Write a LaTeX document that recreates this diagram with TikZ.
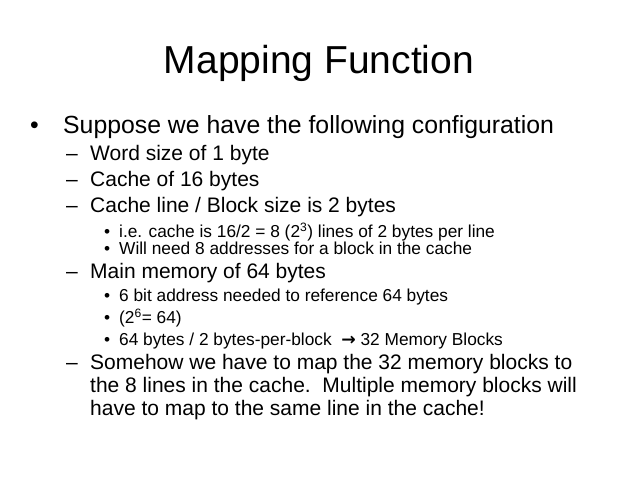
\documentclass[tikz,border=0pt]{standalone}
\usepackage{fontspec}
\setmainfont{Liberation Sans}
\newfontfamily\symfont{DejaVu Sans}
\tikzset{
  title/.style={anchor=base, inner sep=0pt, font=\fontsize{39}{44}\selectfont},
  lone/.style={anchor=base west, inner sep=0pt, font=\fontsize{24.8}{28}\selectfont},
  ltwo/.style={anchor=base west, inner sep=0pt, font=\fontsize{21}{24}\selectfont},
  lthree/.style={anchor=base west, inner sep=0pt, font=\fontsize{17.3}{20}\selectfont},
}
\begin{document}
\begin{tikzpicture}[x=1pt,y=-1pt]
\useasboundingbox (0,0) rectangle (638,478);
\node[title] (T) at (319,74) {Mapping Function};
% level one
\node[lone] (b1) at (30,134) {\textbullet};
\node[lone] (s1) at (63,134) {Suppose we have the following configuration};
% level two
\node[ltwo] (d1) at (66,161) {--};
\node[ltwo] (w) at (90,161) {Word size of 1 byte};
\node[ltwo] (d2) at (66,187) {--};
\node[ltwo] (c) at (90,187) {Cache of 16 bytes};
\node[ltwo] (d3) at (66,213) {--};
\node[ltwo] (cl) at (90,213) {Cache line / Block size is 2 bytes};
\node[lthree] (e1) at (104,238) {\textbullet};
\node[lthree] (ie) at (119,238) {i.e. cache is 16/2 = 8 (2\textsuperscript{3}) lines of 2 bytes per line};
\node[lthree] (e2) at (104,255) {\textbullet};
\node[lthree] (wn) at (119,255) {Will need 8 addresses for a block in the cache};
\node[ltwo] (d4) at (66,279) {--};
\node[ltwo] (mm) at (90,279) {Main memory of 64 bytes};
\node[lthree] (e3) at (104,302) {\textbullet};
\node[lthree] (sb) at (119,302) {6 bit address needed to reference 64 bytes};
\node[lthree] (e4) at (104,324) {\textbullet};
\node[lthree] (tp) at (119,324) {(2\textsuperscript{6}= 64)};
\node[lthree] (e5) at (104,346) {\textbullet};
\node[lthree] (bb) at (119,346) {64 bytes / 2 bytes-per-block \ {\symfont\bfseries →} 32 Memory Blocks};
\node[ltwo] (d5) at (66,370) {--};
\node[ltwo] (sh1) at (90,370) {Somehow we have to map the 32 memory blocks to};
\node[ltwo] (sh2) at (90,393) {the 8 lines in the cache.\ \ Multiple memory blocks will};
\node[ltwo] (sh3) at (90,416) {have to map to the same line in the cache!};
\end{tikzpicture}
\end{document}
